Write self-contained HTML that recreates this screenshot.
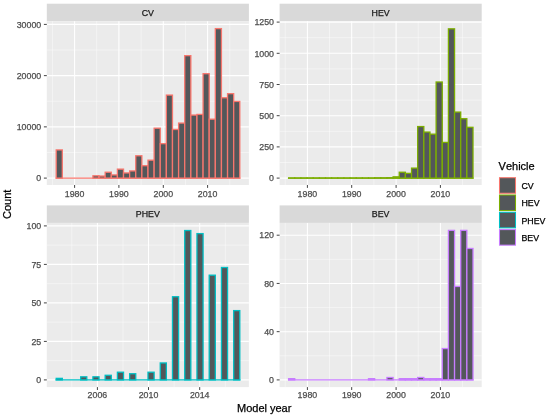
<!DOCTYPE html>
<html><head><meta charset="utf-8"><title>Vehicle histogram</title>
<style>html,body{margin:0;padding:0;background:#fff;}body{width:550px;height:417px;overflow:hidden;}svg{display:block;}text{font-kerning:none;stroke-width:0.25px;}</style>
</head><body>
<svg width="550" height="417" viewBox="0 0 550 417" font-family='"Liberation Sans", sans-serif'>
<rect width="550" height="417" fill="#fff"/>
<g>
<rect x="46.8" y="3.7" width="202.10" height="17.50" fill="#d9d9d9"/>
<rect x="46.8" y="21.2" width="202.10" height="163.80" fill="#ebebeb"/>
<line x1="46.8" x2="248.9" y1="152.48" y2="152.48" stroke="#fff" stroke-width="0.55" stroke-opacity="0.8"/>
<line x1="46.8" x2="248.9" y1="101.25" y2="101.25" stroke="#fff" stroke-width="0.55" stroke-opacity="0.8"/>
<line x1="46.8" x2="248.9" y1="50.02" y2="50.02" stroke="#fff" stroke-width="0.55" stroke-opacity="0.8"/>
<line x1="52.40" x2="52.40" y1="21.2" y2="185.0" stroke="#fff" stroke-width="0.55" stroke-opacity="0.8"/>
<line x1="96.70" x2="96.70" y1="21.2" y2="185.0" stroke="#fff" stroke-width="0.55" stroke-opacity="0.8"/>
<line x1="141.10" x2="141.10" y1="21.2" y2="185.0" stroke="#fff" stroke-width="0.55" stroke-opacity="0.8"/>
<line x1="185.40" x2="185.40" y1="21.2" y2="185.0" stroke="#fff" stroke-width="0.55" stroke-opacity="0.8"/>
<line x1="229.80" x2="229.80" y1="21.2" y2="185.0" stroke="#fff" stroke-width="0.55" stroke-opacity="0.8"/>
<line x1="46.8" x2="248.9" y1="178.10" y2="178.10" stroke="#fff" stroke-width="1.07"/>
<line x1="43.90" x2="46.8" y1="178.10" y2="178.10" stroke="#444" stroke-width="1"/>
<text x="41.20" y="181.30" font-size="8.8" fill="#4d4d4d" stroke="#4d4d4d" text-anchor="end">0</text>
<line x1="46.8" x2="248.9" y1="126.87" y2="126.87" stroke="#fff" stroke-width="1.07"/>
<line x1="43.90" x2="46.8" y1="126.87" y2="126.87" stroke="#444" stroke-width="1"/>
<text x="41.20" y="130.07" font-size="8.8" fill="#4d4d4d" stroke="#4d4d4d" text-anchor="end">10000</text>
<line x1="46.8" x2="248.9" y1="75.63" y2="75.63" stroke="#fff" stroke-width="1.07"/>
<line x1="43.90" x2="46.8" y1="75.63" y2="75.63" stroke="#444" stroke-width="1"/>
<text x="41.20" y="78.83" font-size="8.8" fill="#4d4d4d" stroke="#4d4d4d" text-anchor="end">20000</text>
<line x1="46.8" x2="248.9" y1="24.40" y2="24.40" stroke="#fff" stroke-width="1.07"/>
<line x1="43.90" x2="46.8" y1="24.40" y2="24.40" stroke="#444" stroke-width="1"/>
<text x="41.20" y="27.60" font-size="8.8" fill="#4d4d4d" stroke="#4d4d4d" text-anchor="end">30000</text>
<line x1="74.60" x2="74.60" y1="21.2" y2="185.0" stroke="#fff" stroke-width="1.07"/>
<line x1="74.60" x2="74.60" y1="185.0" y2="187.90" stroke="#444" stroke-width="1"/>
<text x="74.60" y="197.30" font-size="8.8" fill="#4d4d4d" stroke="#4d4d4d" text-anchor="middle">1980</text>
<line x1="118.90" x2="118.90" y1="21.2" y2="185.0" stroke="#fff" stroke-width="1.07"/>
<line x1="118.90" x2="118.90" y1="185.0" y2="187.90" stroke="#444" stroke-width="1"/>
<text x="118.90" y="197.30" font-size="8.8" fill="#4d4d4d" stroke="#4d4d4d" text-anchor="middle">1990</text>
<line x1="163.30" x2="163.30" y1="21.2" y2="185.0" stroke="#fff" stroke-width="1.07"/>
<line x1="163.30" x2="163.30" y1="185.0" y2="187.90" stroke="#444" stroke-width="1"/>
<text x="163.30" y="197.30" font-size="8.8" fill="#4d4d4d" stroke="#4d4d4d" text-anchor="middle">2000</text>
<line x1="207.60" x2="207.60" y1="21.2" y2="185.0" stroke="#fff" stroke-width="1.07"/>
<line x1="207.60" x2="207.60" y1="185.0" y2="187.90" stroke="#444" stroke-width="1"/>
<text x="207.60" y="197.30" font-size="8.8" fill="#4d4d4d" stroke="#4d4d4d" text-anchor="middle">2010</text>
<line x1="55.55" x2="240.45" y1="178.10" y2="178.10" stroke="#F8766D" stroke-width="1.3"/>
<rect x="56.20" y="149.92" width="6.12" height="28.18" fill="#53575a" stroke="#F8766D" stroke-width="1.3"/>
<rect x="92.92" y="175.79" width="6.12" height="2.31" fill="#53575a" stroke="#F8766D" stroke-width="1.3"/>
<rect x="99.04" y="176.05" width="6.12" height="2.05" fill="#53575a" stroke="#F8766D" stroke-width="1.3"/>
<rect x="105.16" y="172.21" width="6.12" height="5.89" fill="#53575a" stroke="#F8766D" stroke-width="1.3"/>
<rect x="111.28" y="174.92" width="6.12" height="3.18" fill="#53575a" stroke="#F8766D" stroke-width="1.3"/>
<rect x="117.40" y="169.13" width="6.12" height="8.97" fill="#53575a" stroke="#F8766D" stroke-width="1.3"/>
<rect x="123.52" y="172.93" width="6.12" height="5.17" fill="#53575a" stroke="#F8766D" stroke-width="1.3"/>
<rect x="129.64" y="170.93" width="6.12" height="7.17" fill="#53575a" stroke="#F8766D" stroke-width="1.3"/>
<rect x="135.76" y="155.76" width="6.12" height="22.34" fill="#53575a" stroke="#F8766D" stroke-width="1.3"/>
<rect x="141.88" y="165.70" width="6.12" height="12.40" fill="#53575a" stroke="#F8766D" stroke-width="1.3"/>
<rect x="148.00" y="160.17" width="6.12" height="17.93" fill="#53575a" stroke="#F8766D" stroke-width="1.3"/>
<rect x="154.12" y="128.20" width="6.12" height="49.90" fill="#53575a" stroke="#F8766D" stroke-width="1.3"/>
<rect x="160.24" y="143.67" width="6.12" height="34.43" fill="#53575a" stroke="#F8766D" stroke-width="1.3"/>
<rect x="166.36" y="95.10" width="6.12" height="83.00" fill="#53575a" stroke="#F8766D" stroke-width="1.3"/>
<rect x="172.48" y="129.48" width="6.12" height="48.62" fill="#53575a" stroke="#F8766D" stroke-width="1.3"/>
<rect x="178.60" y="123.08" width="6.12" height="55.02" fill="#53575a" stroke="#F8766D" stroke-width="1.3"/>
<rect x="184.72" y="55.65" width="6.12" height="122.45" fill="#53575a" stroke="#F8766D" stroke-width="1.3"/>
<rect x="190.84" y="115.08" width="6.12" height="63.02" fill="#53575a" stroke="#F8766D" stroke-width="1.3"/>
<rect x="196.96" y="114.42" width="6.12" height="63.68" fill="#53575a" stroke="#F8766D" stroke-width="1.3"/>
<rect x="203.08" y="73.69" width="6.12" height="104.41" fill="#53575a" stroke="#F8766D" stroke-width="1.3"/>
<rect x="209.20" y="119.18" width="6.12" height="58.92" fill="#53575a" stroke="#F8766D" stroke-width="1.3"/>
<rect x="215.32" y="28.60" width="6.12" height="149.50" fill="#53575a" stroke="#F8766D" stroke-width="1.3"/>
<rect x="221.44" y="97.77" width="6.12" height="80.33" fill="#53575a" stroke="#F8766D" stroke-width="1.3"/>
<rect x="227.56" y="93.67" width="6.12" height="84.43" fill="#53575a" stroke="#F8766D" stroke-width="1.3"/>
<rect x="233.68" y="101.45" width="6.12" height="76.65" fill="#53575a" stroke="#F8766D" stroke-width="1.3"/>
<text x="147.85" y="15.60" font-size="8.8" fill="#1a1a1a" stroke="#1a1a1a" text-anchor="middle">CV</text>
</g>
<g>
<rect x="279.6" y="3.7" width="202.10" height="17.50" fill="#d9d9d9"/>
<rect x="279.6" y="21.2" width="202.10" height="163.80" fill="#ebebeb"/>
<line x1="279.6" x2="481.7" y1="162.50" y2="162.50" stroke="#fff" stroke-width="0.55" stroke-opacity="0.8"/>
<line x1="279.6" x2="481.7" y1="131.30" y2="131.30" stroke="#fff" stroke-width="0.55" stroke-opacity="0.8"/>
<line x1="279.6" x2="481.7" y1="100.10" y2="100.10" stroke="#fff" stroke-width="0.55" stroke-opacity="0.8"/>
<line x1="279.6" x2="481.7" y1="68.90" y2="68.90" stroke="#fff" stroke-width="0.55" stroke-opacity="0.8"/>
<line x1="279.6" x2="481.7" y1="37.70" y2="37.70" stroke="#fff" stroke-width="0.55" stroke-opacity="0.8"/>
<line x1="285.20" x2="285.20" y1="21.2" y2="185.0" stroke="#fff" stroke-width="0.55" stroke-opacity="0.8"/>
<line x1="329.50" x2="329.50" y1="21.2" y2="185.0" stroke="#fff" stroke-width="0.55" stroke-opacity="0.8"/>
<line x1="373.90" x2="373.90" y1="21.2" y2="185.0" stroke="#fff" stroke-width="0.55" stroke-opacity="0.8"/>
<line x1="418.20" x2="418.20" y1="21.2" y2="185.0" stroke="#fff" stroke-width="0.55" stroke-opacity="0.8"/>
<line x1="462.60" x2="462.60" y1="21.2" y2="185.0" stroke="#fff" stroke-width="0.55" stroke-opacity="0.8"/>
<line x1="279.6" x2="481.7" y1="178.10" y2="178.10" stroke="#fff" stroke-width="1.07"/>
<line x1="276.70" x2="279.6" y1="178.10" y2="178.10" stroke="#444" stroke-width="1"/>
<text x="274.00" y="181.30" font-size="8.8" fill="#4d4d4d" stroke="#4d4d4d" text-anchor="end">0</text>
<line x1="279.6" x2="481.7" y1="146.90" y2="146.90" stroke="#fff" stroke-width="1.07"/>
<line x1="276.70" x2="279.6" y1="146.90" y2="146.90" stroke="#444" stroke-width="1"/>
<text x="274.00" y="150.10" font-size="8.8" fill="#4d4d4d" stroke="#4d4d4d" text-anchor="end">250</text>
<line x1="279.6" x2="481.7" y1="115.70" y2="115.70" stroke="#fff" stroke-width="1.07"/>
<line x1="276.70" x2="279.6" y1="115.70" y2="115.70" stroke="#444" stroke-width="1"/>
<text x="274.00" y="118.90" font-size="8.8" fill="#4d4d4d" stroke="#4d4d4d" text-anchor="end">500</text>
<line x1="279.6" x2="481.7" y1="84.50" y2="84.50" stroke="#fff" stroke-width="1.07"/>
<line x1="276.70" x2="279.6" y1="84.50" y2="84.50" stroke="#444" stroke-width="1"/>
<text x="274.00" y="87.70" font-size="8.8" fill="#4d4d4d" stroke="#4d4d4d" text-anchor="end">750</text>
<line x1="279.6" x2="481.7" y1="53.30" y2="53.30" stroke="#fff" stroke-width="1.07"/>
<line x1="276.70" x2="279.6" y1="53.30" y2="53.30" stroke="#444" stroke-width="1"/>
<text x="274.00" y="56.50" font-size="8.8" fill="#4d4d4d" stroke="#4d4d4d" text-anchor="end">1000</text>
<line x1="279.6" x2="481.7" y1="22.10" y2="22.10" stroke="#fff" stroke-width="1.07"/>
<line x1="276.70" x2="279.6" y1="22.10" y2="22.10" stroke="#444" stroke-width="1"/>
<text x="274.00" y="25.30" font-size="8.8" fill="#4d4d4d" stroke="#4d4d4d" text-anchor="end">1250</text>
<line x1="307.40" x2="307.40" y1="21.2" y2="185.0" stroke="#fff" stroke-width="1.07"/>
<line x1="307.40" x2="307.40" y1="185.0" y2="187.90" stroke="#444" stroke-width="1"/>
<text x="307.40" y="197.30" font-size="8.8" fill="#4d4d4d" stroke="#4d4d4d" text-anchor="middle">1980</text>
<line x1="351.70" x2="351.70" y1="21.2" y2="185.0" stroke="#fff" stroke-width="1.07"/>
<line x1="351.70" x2="351.70" y1="185.0" y2="187.90" stroke="#444" stroke-width="1"/>
<text x="351.70" y="197.30" font-size="8.8" fill="#4d4d4d" stroke="#4d4d4d" text-anchor="middle">1990</text>
<line x1="396.10" x2="396.10" y1="21.2" y2="185.0" stroke="#fff" stroke-width="1.07"/>
<line x1="396.10" x2="396.10" y1="185.0" y2="187.90" stroke="#444" stroke-width="1"/>
<text x="396.10" y="197.30" font-size="8.8" fill="#4d4d4d" stroke="#4d4d4d" text-anchor="middle">2000</text>
<line x1="440.40" x2="440.40" y1="21.2" y2="185.0" stroke="#fff" stroke-width="1.07"/>
<line x1="440.40" x2="440.40" y1="185.0" y2="187.90" stroke="#444" stroke-width="1"/>
<text x="440.40" y="197.30" font-size="8.8" fill="#4d4d4d" stroke="#4d4d4d" text-anchor="middle">2010</text>
<line x1="287.95" x2="473.65" y1="178.10" y2="178.10" stroke="#7CAE00" stroke-width="1.3"/>
<rect x="288.60" y="177.98" width="6.15" height="0.12" fill="#53575a" stroke="#7CAE00" stroke-width="1.3"/>
<rect x="294.75" y="177.98" width="6.15" height="0.12" fill="#53575a" stroke="#7CAE00" stroke-width="1.3"/>
<rect x="300.89" y="177.98" width="6.15" height="0.12" fill="#53575a" stroke="#7CAE00" stroke-width="1.3"/>
<rect x="307.04" y="177.98" width="6.15" height="0.12" fill="#53575a" stroke="#7CAE00" stroke-width="1.3"/>
<rect x="313.19" y="177.98" width="6.15" height="0.12" fill="#53575a" stroke="#7CAE00" stroke-width="1.3"/>
<rect x="319.33" y="177.98" width="6.15" height="0.12" fill="#53575a" stroke="#7CAE00" stroke-width="1.3"/>
<rect x="325.48" y="177.98" width="6.15" height="0.12" fill="#53575a" stroke="#7CAE00" stroke-width="1.3"/>
<rect x="331.63" y="177.98" width="6.15" height="0.12" fill="#53575a" stroke="#7CAE00" stroke-width="1.3"/>
<rect x="337.77" y="177.98" width="6.15" height="0.12" fill="#53575a" stroke="#7CAE00" stroke-width="1.3"/>
<rect x="343.92" y="177.98" width="6.15" height="0.12" fill="#53575a" stroke="#7CAE00" stroke-width="1.3"/>
<rect x="350.07" y="177.98" width="6.15" height="0.12" fill="#53575a" stroke="#7CAE00" stroke-width="1.3"/>
<rect x="356.21" y="177.98" width="6.15" height="0.12" fill="#53575a" stroke="#7CAE00" stroke-width="1.3"/>
<rect x="362.36" y="177.98" width="6.15" height="0.12" fill="#53575a" stroke="#7CAE00" stroke-width="1.3"/>
<rect x="368.51" y="177.98" width="6.15" height="0.12" fill="#53575a" stroke="#7CAE00" stroke-width="1.3"/>
<rect x="374.65" y="177.85" width="6.15" height="0.25" fill="#53575a" stroke="#7CAE00" stroke-width="1.3"/>
<rect x="380.80" y="177.85" width="6.15" height="0.25" fill="#53575a" stroke="#7CAE00" stroke-width="1.3"/>
<rect x="386.95" y="177.73" width="6.15" height="0.37" fill="#53575a" stroke="#7CAE00" stroke-width="1.3"/>
<rect x="393.09" y="176.85" width="6.15" height="1.25" fill="#53575a" stroke="#7CAE00" stroke-width="1.3"/>
<rect x="399.24" y="172.23" width="6.15" height="5.87" fill="#53575a" stroke="#7CAE00" stroke-width="1.3"/>
<rect x="405.39" y="173.36" width="6.15" height="4.74" fill="#53575a" stroke="#7CAE00" stroke-width="1.3"/>
<rect x="411.53" y="168.12" width="6.15" height="9.98" fill="#53575a" stroke="#7CAE00" stroke-width="1.3"/>
<rect x="417.68" y="126.56" width="6.15" height="51.54" fill="#53575a" stroke="#7CAE00" stroke-width="1.3"/>
<rect x="423.83" y="132.05" width="6.15" height="46.05" fill="#53575a" stroke="#7CAE00" stroke-width="1.3"/>
<rect x="429.97" y="134.17" width="6.15" height="43.93" fill="#53575a" stroke="#7CAE00" stroke-width="1.3"/>
<rect x="436.12" y="82.00" width="6.15" height="96.10" fill="#53575a" stroke="#7CAE00" stroke-width="1.3"/>
<rect x="442.27" y="142.41" width="6.15" height="35.69" fill="#53575a" stroke="#7CAE00" stroke-width="1.3"/>
<rect x="448.41" y="28.84" width="6.15" height="149.26" fill="#53575a" stroke="#7CAE00" stroke-width="1.3"/>
<rect x="454.56" y="112.08" width="6.15" height="66.02" fill="#53575a" stroke="#7CAE00" stroke-width="1.3"/>
<rect x="460.71" y="118.70" width="6.15" height="59.40" fill="#53575a" stroke="#7CAE00" stroke-width="1.3"/>
<rect x="466.85" y="127.31" width="6.15" height="50.79" fill="#53575a" stroke="#7CAE00" stroke-width="1.3"/>
<text x="380.65" y="15.60" font-size="8.8" fill="#1a1a1a" stroke="#1a1a1a" text-anchor="middle">HEV</text>
</g>
<g>
<rect x="46.8" y="205.4" width="202.10" height="17.50" fill="#d9d9d9"/>
<rect x="46.8" y="222.9" width="202.10" height="164.20" fill="#ebebeb"/>
<line x1="46.8" x2="248.9" y1="360.65" y2="360.65" stroke="#fff" stroke-width="0.55" stroke-opacity="0.8"/>
<line x1="46.8" x2="248.9" y1="322.15" y2="322.15" stroke="#fff" stroke-width="0.55" stroke-opacity="0.8"/>
<line x1="46.8" x2="248.9" y1="283.65" y2="283.65" stroke="#fff" stroke-width="0.55" stroke-opacity="0.8"/>
<line x1="46.8" x2="248.9" y1="245.15" y2="245.15" stroke="#fff" stroke-width="0.55" stroke-opacity="0.8"/>
<line x1="71.80" x2="71.80" y1="222.9" y2="387.1" stroke="#fff" stroke-width="0.55" stroke-opacity="0.8"/>
<line x1="123.00" x2="123.00" y1="222.9" y2="387.1" stroke="#fff" stroke-width="0.55" stroke-opacity="0.8"/>
<line x1="174.10" x2="174.10" y1="222.9" y2="387.1" stroke="#fff" stroke-width="0.55" stroke-opacity="0.8"/>
<line x1="225.30" x2="225.30" y1="222.9" y2="387.1" stroke="#fff" stroke-width="0.55" stroke-opacity="0.8"/>
<line x1="46.8" x2="248.9" y1="379.90" y2="379.90" stroke="#fff" stroke-width="1.07"/>
<line x1="43.90" x2="46.8" y1="379.90" y2="379.90" stroke="#444" stroke-width="1"/>
<text x="41.20" y="383.10" font-size="8.8" fill="#4d4d4d" stroke="#4d4d4d" text-anchor="end">0</text>
<line x1="46.8" x2="248.9" y1="341.40" y2="341.40" stroke="#fff" stroke-width="1.07"/>
<line x1="43.90" x2="46.8" y1="341.40" y2="341.40" stroke="#444" stroke-width="1"/>
<text x="41.20" y="344.60" font-size="8.8" fill="#4d4d4d" stroke="#4d4d4d" text-anchor="end">25</text>
<line x1="46.8" x2="248.9" y1="302.90" y2="302.90" stroke="#fff" stroke-width="1.07"/>
<line x1="43.90" x2="46.8" y1="302.90" y2="302.90" stroke="#444" stroke-width="1"/>
<text x="41.20" y="306.10" font-size="8.8" fill="#4d4d4d" stroke="#4d4d4d" text-anchor="end">50</text>
<line x1="46.8" x2="248.9" y1="264.40" y2="264.40" stroke="#fff" stroke-width="1.07"/>
<line x1="43.90" x2="46.8" y1="264.40" y2="264.40" stroke="#444" stroke-width="1"/>
<text x="41.20" y="267.60" font-size="8.8" fill="#4d4d4d" stroke="#4d4d4d" text-anchor="end">75</text>
<line x1="46.8" x2="248.9" y1="225.90" y2="225.90" stroke="#fff" stroke-width="1.07"/>
<line x1="43.90" x2="46.8" y1="225.90" y2="225.90" stroke="#444" stroke-width="1"/>
<text x="41.20" y="229.10" font-size="8.8" fill="#4d4d4d" stroke="#4d4d4d" text-anchor="end">100</text>
<line x1="97.40" x2="97.40" y1="222.9" y2="387.1" stroke="#fff" stroke-width="1.07"/>
<line x1="97.40" x2="97.40" y1="387.1" y2="390.00" stroke="#444" stroke-width="1"/>
<text x="97.40" y="398.10" font-size="8.8" fill="#4d4d4d" stroke="#4d4d4d" text-anchor="middle">2006</text>
<line x1="148.50" x2="148.50" y1="222.9" y2="387.1" stroke="#fff" stroke-width="1.07"/>
<line x1="148.50" x2="148.50" y1="387.1" y2="390.00" stroke="#444" stroke-width="1"/>
<text x="148.50" y="398.10" font-size="8.8" fill="#4d4d4d" stroke="#4d4d4d" text-anchor="middle">2010</text>
<line x1="199.70" x2="199.70" y1="222.9" y2="387.1" stroke="#fff" stroke-width="1.07"/>
<line x1="199.70" x2="199.70" y1="387.1" y2="390.00" stroke="#444" stroke-width="1"/>
<text x="199.70" y="398.10" font-size="8.8" fill="#4d4d4d" stroke="#4d4d4d" text-anchor="middle">2014</text>
<line x1="55.55" x2="240.45" y1="379.90" y2="379.90" stroke="#00BFC4" stroke-width="1.3"/>
<rect x="56.20" y="378.36" width="6.12" height="1.54" fill="#53575a" stroke="#00BFC4" stroke-width="1.3"/>
<rect x="80.68" y="376.82" width="6.12" height="3.08" fill="#53575a" stroke="#00BFC4" stroke-width="1.3"/>
<rect x="92.92" y="376.82" width="6.12" height="3.08" fill="#53575a" stroke="#00BFC4" stroke-width="1.3"/>
<rect x="105.16" y="375.28" width="6.12" height="4.62" fill="#53575a" stroke="#00BFC4" stroke-width="1.3"/>
<rect x="117.40" y="372.20" width="6.12" height="7.70" fill="#53575a" stroke="#00BFC4" stroke-width="1.3"/>
<rect x="129.64" y="373.74" width="6.12" height="6.16" fill="#53575a" stroke="#00BFC4" stroke-width="1.3"/>
<rect x="148.00" y="372.20" width="6.12" height="7.70" fill="#53575a" stroke="#00BFC4" stroke-width="1.3"/>
<rect x="160.24" y="362.96" width="6.12" height="16.94" fill="#53575a" stroke="#00BFC4" stroke-width="1.3"/>
<rect x="172.48" y="296.74" width="6.12" height="83.16" fill="#53575a" stroke="#00BFC4" stroke-width="1.3"/>
<rect x="184.72" y="230.52" width="6.12" height="149.38" fill="#53575a" stroke="#00BFC4" stroke-width="1.3"/>
<rect x="196.96" y="233.60" width="6.12" height="146.30" fill="#53575a" stroke="#00BFC4" stroke-width="1.3"/>
<rect x="209.20" y="275.18" width="6.12" height="104.72" fill="#53575a" stroke="#00BFC4" stroke-width="1.3"/>
<rect x="221.44" y="267.48" width="6.12" height="112.42" fill="#53575a" stroke="#00BFC4" stroke-width="1.3"/>
<rect x="233.68" y="310.60" width="6.12" height="69.30" fill="#53575a" stroke="#00BFC4" stroke-width="1.3"/>
<text x="147.85" y="217.30" font-size="8.8" fill="#1a1a1a" stroke="#1a1a1a" text-anchor="middle">PHEV</text>
</g>
<g>
<rect x="279.6" y="205.4" width="202.10" height="17.50" fill="#d9d9d9"/>
<rect x="279.6" y="222.9" width="202.10" height="164.20" fill="#ebebeb"/>
<line x1="279.6" x2="481.7" y1="355.78" y2="355.78" stroke="#fff" stroke-width="0.55" stroke-opacity="0.8"/>
<line x1="279.6" x2="481.7" y1="307.55" y2="307.55" stroke="#fff" stroke-width="0.55" stroke-opacity="0.8"/>
<line x1="279.6" x2="481.7" y1="259.32" y2="259.32" stroke="#fff" stroke-width="0.55" stroke-opacity="0.8"/>
<line x1="285.20" x2="285.20" y1="222.9" y2="387.1" stroke="#fff" stroke-width="0.55" stroke-opacity="0.8"/>
<line x1="329.50" x2="329.50" y1="222.9" y2="387.1" stroke="#fff" stroke-width="0.55" stroke-opacity="0.8"/>
<line x1="373.90" x2="373.90" y1="222.9" y2="387.1" stroke="#fff" stroke-width="0.55" stroke-opacity="0.8"/>
<line x1="418.20" x2="418.20" y1="222.9" y2="387.1" stroke="#fff" stroke-width="0.55" stroke-opacity="0.8"/>
<line x1="462.60" x2="462.60" y1="222.9" y2="387.1" stroke="#fff" stroke-width="0.55" stroke-opacity="0.8"/>
<line x1="279.6" x2="481.7" y1="379.90" y2="379.90" stroke="#fff" stroke-width="1.07"/>
<line x1="276.70" x2="279.6" y1="379.90" y2="379.90" stroke="#444" stroke-width="1"/>
<text x="274.00" y="383.10" font-size="8.8" fill="#4d4d4d" stroke="#4d4d4d" text-anchor="end">0</text>
<line x1="279.6" x2="481.7" y1="331.67" y2="331.67" stroke="#fff" stroke-width="1.07"/>
<line x1="276.70" x2="279.6" y1="331.67" y2="331.67" stroke="#444" stroke-width="1"/>
<text x="274.00" y="334.87" font-size="8.8" fill="#4d4d4d" stroke="#4d4d4d" text-anchor="end">40</text>
<line x1="279.6" x2="481.7" y1="283.43" y2="283.43" stroke="#fff" stroke-width="1.07"/>
<line x1="276.70" x2="279.6" y1="283.43" y2="283.43" stroke="#444" stroke-width="1"/>
<text x="274.00" y="286.63" font-size="8.8" fill="#4d4d4d" stroke="#4d4d4d" text-anchor="end">80</text>
<line x1="279.6" x2="481.7" y1="235.20" y2="235.20" stroke="#fff" stroke-width="1.07"/>
<line x1="276.70" x2="279.6" y1="235.20" y2="235.20" stroke="#444" stroke-width="1"/>
<text x="274.00" y="238.40" font-size="8.8" fill="#4d4d4d" stroke="#4d4d4d" text-anchor="end">120</text>
<line x1="307.40" x2="307.40" y1="222.9" y2="387.1" stroke="#fff" stroke-width="1.07"/>
<line x1="307.40" x2="307.40" y1="387.1" y2="390.00" stroke="#444" stroke-width="1"/>
<text x="307.40" y="398.10" font-size="8.8" fill="#4d4d4d" stroke="#4d4d4d" text-anchor="middle">1980</text>
<line x1="351.70" x2="351.70" y1="222.9" y2="387.1" stroke="#fff" stroke-width="1.07"/>
<line x1="351.70" x2="351.70" y1="387.1" y2="390.00" stroke="#444" stroke-width="1"/>
<text x="351.70" y="398.10" font-size="8.8" fill="#4d4d4d" stroke="#4d4d4d" text-anchor="middle">1990</text>
<line x1="396.10" x2="396.10" y1="222.9" y2="387.1" stroke="#fff" stroke-width="1.07"/>
<line x1="396.10" x2="396.10" y1="387.1" y2="390.00" stroke="#444" stroke-width="1"/>
<text x="396.10" y="398.10" font-size="8.8" fill="#4d4d4d" stroke="#4d4d4d" text-anchor="middle">2000</text>
<line x1="440.40" x2="440.40" y1="222.9" y2="387.1" stroke="#fff" stroke-width="1.07"/>
<line x1="440.40" x2="440.40" y1="387.1" y2="390.00" stroke="#444" stroke-width="1"/>
<text x="440.40" y="398.10" font-size="8.8" fill="#4d4d4d" stroke="#4d4d4d" text-anchor="middle">2010</text>
<line x1="287.95" x2="473.65" y1="379.90" y2="379.90" stroke="#C77CFF" stroke-width="1.3"/>
<rect x="288.60" y="378.69" width="6.15" height="1.21" fill="#53575a" stroke="#C77CFF" stroke-width="1.3"/>
<rect x="368.51" y="378.69" width="6.15" height="1.21" fill="#53575a" stroke="#C77CFF" stroke-width="1.3"/>
<rect x="386.95" y="377.49" width="6.15" height="2.41" fill="#53575a" stroke="#C77CFF" stroke-width="1.3"/>
<rect x="399.24" y="378.69" width="6.15" height="1.21" fill="#53575a" stroke="#C77CFF" stroke-width="1.3"/>
<rect x="405.39" y="378.69" width="6.15" height="1.21" fill="#53575a" stroke="#C77CFF" stroke-width="1.3"/>
<rect x="411.53" y="378.69" width="6.15" height="1.21" fill="#53575a" stroke="#C77CFF" stroke-width="1.3"/>
<rect x="417.68" y="377.49" width="6.15" height="2.41" fill="#53575a" stroke="#C77CFF" stroke-width="1.3"/>
<rect x="423.83" y="378.69" width="6.15" height="1.21" fill="#53575a" stroke="#C77CFF" stroke-width="1.3"/>
<rect x="429.97" y="378.69" width="6.15" height="1.21" fill="#53575a" stroke="#C77CFF" stroke-width="1.3"/>
<rect x="436.12" y="378.69" width="6.15" height="1.21" fill="#53575a" stroke="#C77CFF" stroke-width="1.3"/>
<rect x="442.27" y="348.55" width="6.15" height="31.35" fill="#53575a" stroke="#C77CFF" stroke-width="1.3"/>
<rect x="448.41" y="230.38" width="6.15" height="149.52" fill="#53575a" stroke="#C77CFF" stroke-width="1.3"/>
<rect x="454.56" y="286.45" width="6.15" height="93.45" fill="#53575a" stroke="#C77CFF" stroke-width="1.3"/>
<rect x="460.71" y="230.38" width="6.15" height="149.52" fill="#53575a" stroke="#C77CFF" stroke-width="1.3"/>
<rect x="466.85" y="248.46" width="6.15" height="131.44" fill="#53575a" stroke="#C77CFF" stroke-width="1.3"/>
<text x="380.65" y="217.30" font-size="8.8" fill="#1a1a1a" stroke="#1a1a1a" text-anchor="middle">BEV</text>
</g>
<text x="264.2" y="412.3" font-size="11" fill="#000" stroke="#000" text-anchor="middle">Model year</text>
<text transform="translate(11.4,204.3) rotate(-90)" font-size="11" fill="#000" stroke="#000" text-anchor="middle">Count</text>
<text x="498.6" y="170.1" font-size="11" fill="#000" stroke="#000">Vehicle</text>
<rect x="499.5" y="177.70" width="16" height="15.55" fill="#53575a" stroke="#F8766D" stroke-width="1.05"/>
<text x="521.5" y="189.10" font-size="8.8" fill="#000" stroke="#000">CV</text>
<rect x="499.5" y="195.00" width="16" height="15.55" fill="#53575a" stroke="#7CAE00" stroke-width="1.05"/>
<text x="521.5" y="206.40" font-size="8.8" fill="#000" stroke="#000">HEV</text>
<rect x="499.5" y="212.30" width="16" height="15.55" fill="#53575a" stroke="#00BFC4" stroke-width="1.05"/>
<text x="521.5" y="223.70" font-size="8.8" fill="#000" stroke="#000">PHEV</text>
<rect x="499.5" y="229.60" width="16" height="15.55" fill="#53575a" stroke="#C77CFF" stroke-width="1.05"/>
<text x="521.5" y="241.00" font-size="8.8" fill="#000" stroke="#000">BEV</text>
</svg>
</body></html>
